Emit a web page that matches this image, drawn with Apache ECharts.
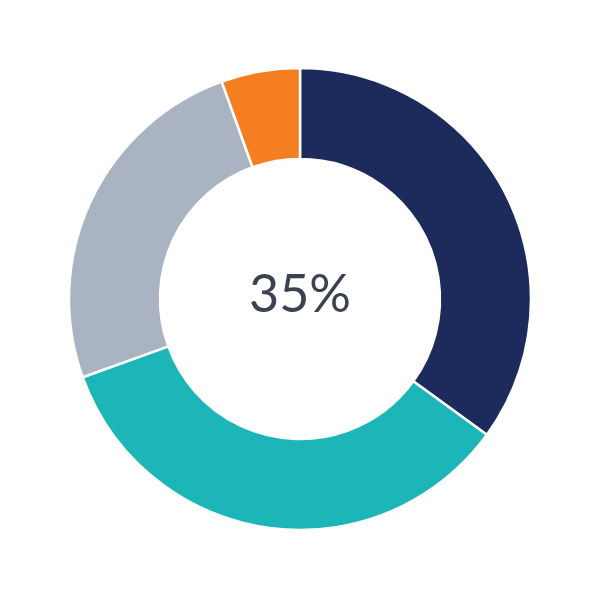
<!DOCTYPE html>
<html>
<head>
<meta charset="utf-8">
<script src="https://cdn.jsdelivr.net/npm/echarts@6/dist/echarts.min.js"></script>
<style>
  html, body { margin: 0; padding: 0; background: #fff; }
  #chart { width: 600px; height: 599px; }
</style>
</head>
<body>
<div id="chart"></div>
<script>
const names = ['A', 'B', 'C', 'D']
const values = [35, 34.5, 25, 5.5]
const colors = ['#1c2b5b', '#1cb5b8', '#a9b3c1', '#f47e20']
const centerText = '35%'

const chart = echarts.init(document.getElementById('chart'))

chart.setOption({
  color: colors,
  animation: false,
  title: {
    text: centerText,
    left: 'center',
    top: 264,
    padding: 5,
    textStyle: {
      color: '#3b4250',
      fontSize: 52,
      lineHeight: 52,
      fontWeight: 'normal',
      fontFamily: 'Lato'
    }
  },
  series: [
    {
      type: 'pie',
      center: [300, 299],
      radius: [140, 231],
      startAngle: 90,
      clockwise: true,
      avoidLabelOverlap: false,
      itemStyle: {
        borderColor: '#fff',
        borderWidth: 2.5
      },
      label: { show: false },
      labelLine: { show: false },
      emphasis: { disabled: true },
      data: names.map((n, i) => ({name: n, value: values[i]}))
    }
  ]
})
</script>
</body>
</html>
